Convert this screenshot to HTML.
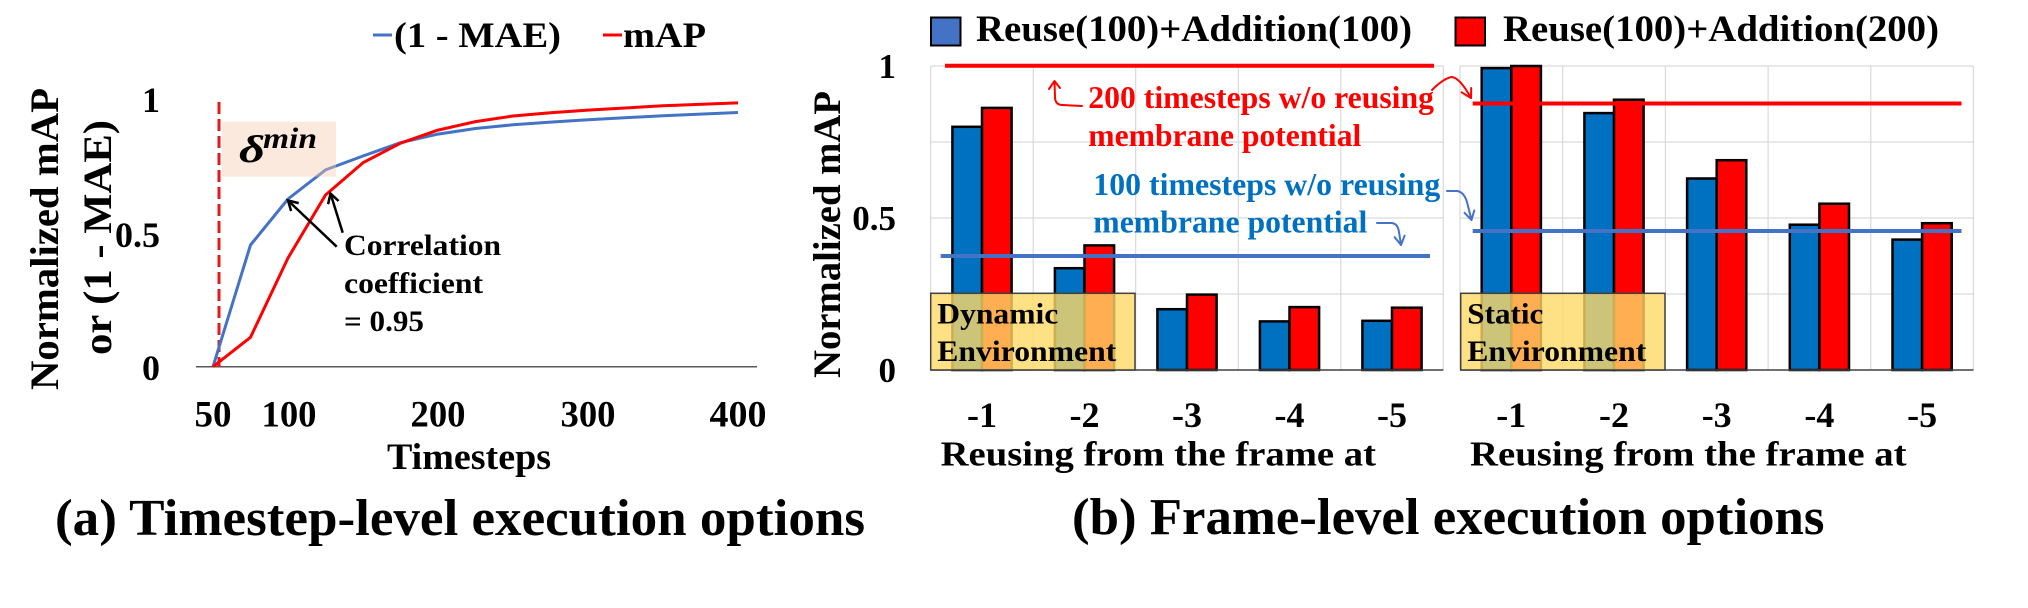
<!DOCTYPE html>
<html>
<head>
<meta charset="utf-8">
<style>
  html, body { margin: 0; padding: 0; background: #ffffff; }
  svg { display: block; }
  text { font-family: "Liberation Serif", "Times New Roman", serif; font-weight: bold; }
</style>
</head>
<body>
<svg width="2028" height="608" viewBox="0 0 2028 608" xmlns="http://www.w3.org/2000/svg">
  <rect x="0" y="0" width="2028" height="608" fill="#ffffff"/>

  <!-- ================= LEFT CHART (a) ================= -->
  <!-- legend -->
  <line x1="373" y1="35" x2="392" y2="35" stroke="#4472c4" stroke-width="3"/>
  <text x="394" y="47" font-size="36" textLength="167" lengthAdjust="spacingAndGlyphs">(1 - MAE)</text>
  <line x1="603" y1="35" x2="622" y2="35" stroke="#ff0000" stroke-width="3"/>
  <text x="623" y="47" font-size="36" textLength="83" lengthAdjust="spacingAndGlyphs">mAP</text>

  <!-- y axis title -->
  <text transform="translate(58,239) rotate(-90)" text-anchor="middle" font-size="40" textLength="302" lengthAdjust="spacingAndGlyphs">Normalized mAP</text>
  <text transform="translate(111,237.5) rotate(-90)" text-anchor="middle" font-size="40" textLength="235" lengthAdjust="spacingAndGlyphs">or (1 - MAE)</text>

  <!-- y ticks -->
  <text x="160" y="112" font-size="36" text-anchor="end">1</text>
  <text x="160" y="247" font-size="36" text-anchor="end">0.5</text>
  <text x="160" y="380" font-size="36" text-anchor="end">0</text>

  <!-- axis line -->
  <line x1="196" y1="366.7" x2="757" y2="366.7" stroke="#595959" stroke-width="1.5"/>

  <!-- dashed delta line -->
  <line x1="219" y1="102" x2="219" y2="367" stroke="#e31a1c" stroke-width="3" stroke-dasharray="12 5"/>

  <!-- curves -->
  <polyline fill="none" stroke="#4472c4" stroke-width="3" stroke-linejoin="round"
    points="213,366.7 250.5,245 288,199 325.5,169.9 363,156 400.5,142.7 438,134.1 475.5,128.5 513,124.8 550.5,122.1 588,119.7 663,115.7 738,112.5"/>
  <polyline fill="none" stroke="#ff0000" stroke-width="3" stroke-linejoin="round"
    points="213,366.7 250.5,337.3 288,258 325.5,195 363,162.7 400.5,143.2 438,130.1 475.5,121.6 513,116 550.5,112.8 588,110.1 663,105.8 738,102.9"/>

  <!-- delta box -->
  <rect x="222" y="121.7" width="114" height="55" fill="#f8cbad" fill-opacity="0.42"/>
  <text x="239" y="162" font-size="38" font-style="italic" textLength="26" lengthAdjust="spacingAndGlyphs">δ</text>
  <text x="263" y="148" font-size="30" font-style="italic" font-weight="normal" textLength="54" lengthAdjust="spacingAndGlyphs">min</text>

  <!-- x ticks -->
  <text x="213" y="426.5" font-size="37" text-anchor="middle" textLength="37" lengthAdjust="spacingAndGlyphs">50</text>
  <text x="289" y="426.5" font-size="37" text-anchor="middle" textLength="55" lengthAdjust="spacingAndGlyphs">100</text>
  <text x="438" y="426.5" font-size="37" text-anchor="middle" textLength="55" lengthAdjust="spacingAndGlyphs">200</text>
  <text x="588" y="426.5" font-size="37" text-anchor="middle" textLength="55" lengthAdjust="spacingAndGlyphs">300</text>
  <text x="738" y="426.5" font-size="37" text-anchor="middle" textLength="57" lengthAdjust="spacingAndGlyphs">400</text>
  <text x="469" y="469" font-size="37" text-anchor="middle" textLength="164" lengthAdjust="spacingAndGlyphs">Timesteps</text>

  <!-- correlation annotation -->
  <line x1="336.7" y1="246.7" x2="288" y2="200.5" stroke="#000" stroke-width="2.5"/>
  <polyline points="291.1,211 288,200.5 298.7,203.1" fill="none" stroke="#000" stroke-width="2.5"/>
  <line x1="342.7" y1="232.7" x2="330.5" y2="193.5" stroke="#000" stroke-width="2.5"/>
  <polyline points="328.1,204.2 330.5,193.5 338.6,201" fill="none" stroke="#000" stroke-width="2.5"/>
  <text x="344" y="255" font-size="30" textLength="157" lengthAdjust="spacingAndGlyphs">Correlation</text>
  <text x="344" y="293" font-size="30" textLength="139" lengthAdjust="spacingAndGlyphs">coefficient</text>
  <text x="344" y="331" font-size="30" textLength="80" lengthAdjust="spacingAndGlyphs">= 0.95</text>

  <!-- caption a -->
  <text x="55" y="535" font-size="52" textLength="810" lengthAdjust="spacingAndGlyphs">(a) Timestep-level execution options</text>

  <!-- ================= RIGHT CHART (b) ================= -->
  <!-- legend -->
  <rect x="931" y="17.5" width="29.5" height="28" fill="#4472c4" stroke="#000" stroke-width="2"/>
  <text x="976" y="41" font-size="37" textLength="436" lengthAdjust="spacingAndGlyphs">Reuse(100)+Addition(100)</text>
  <rect x="1455.5" y="17.5" width="29.5" height="28" fill="#ff0000" stroke="#000" stroke-width="2"/>
  <text x="1503" y="41" font-size="37" textLength="436" lengthAdjust="spacingAndGlyphs">Reuse(100)+Addition(200)</text>

  <!-- y title -->
  <text transform="translate(840,234.5) rotate(-90)" text-anchor="middle" font-size="39" textLength="287" lengthAdjust="spacingAndGlyphs">Normalized mAP</text>
  <!-- y ticks -->
  <text x="896" y="78" font-size="35" text-anchor="end">1</text>
  <text x="896" y="230" font-size="35" text-anchor="end">0.5</text>
  <text x="896" y="382" font-size="35" text-anchor="end">0</text>

  <!-- gridlines panel 1 -->
  <g stroke="#d9d9d9" stroke-width="1.2">
    <line x1="930.7" y1="66" x2="1443.3" y2="66"/>
    <line x1="930.7" y1="142" x2="1443.3" y2="142"/>
    <line x1="930.7" y1="218" x2="1443.3" y2="218"/>
    <line x1="930.7" y1="294" x2="1443.3" y2="294"/>
    <line x1="930.7" y1="66" x2="930.7" y2="370"/>
    <line x1="1033.2" y1="66" x2="1033.2" y2="370"/>
    <line x1="1135.7" y1="66" x2="1135.7" y2="370"/>
    <line x1="1238.3" y1="66" x2="1238.3" y2="370"/>
    <line x1="1340.8" y1="66" x2="1340.8" y2="370"/>
    <line x1="1443.3" y1="66" x2="1443.3" y2="370"/>
  </g>
  <!-- gridlines panel 2 -->
  <g stroke="#d9d9d9" stroke-width="1.2">
    <line x1="1460" y1="66" x2="1973.5" y2="66"/>
    <line x1="1460" y1="142" x2="1973.5" y2="142"/>
    <line x1="1460" y1="218" x2="1973.5" y2="218"/>
    <line x1="1460" y1="294" x2="1973.5" y2="294"/>
    <line x1="1460" y1="66" x2="1460" y2="370"/>
    <line x1="1562.7" y1="66" x2="1562.7" y2="370"/>
    <line x1="1665.4" y1="66" x2="1665.4" y2="370"/>
    <line x1="1768.1" y1="66" x2="1768.1" y2="370"/>
    <line x1="1870.8" y1="66" x2="1870.8" y2="370"/>
    <line x1="1973.5" y1="66" x2="1973.5" y2="370"/>
  </g>

  <!-- bars panel 1 (y0=370, scale 304) -->
  <g stroke="#000" stroke-width="2.5">
    <rect x="952.4" y="126.8" width="29.6" height="243.2" fill="#0070c0"/>
    <rect x="982.0" y="107.9" width="29.6" height="262.1" fill="#ff0000"/>
    <rect x="1054.9" y="268.2" width="29.6" height="101.8" fill="#0070c0"/>
    <rect x="1084.5" y="245.4" width="29.6" height="124.6" fill="#ff0000"/>
    <rect x="1157.4" y="309.2" width="29.6" height="60.8" fill="#0070c0"/>
    <rect x="1187.0" y="294.6" width="29.6" height="75.4" fill="#ff0000"/>
    <rect x="1259.9" y="321.4" width="29.6" height="48.6" fill="#0070c0"/>
    <rect x="1289.5" y="307.1" width="29.6" height="62.9" fill="#ff0000"/>
    <rect x="1362.4" y="320.8" width="29.6" height="49.2" fill="#0070c0"/>
    <rect x="1392.0" y="307.7" width="29.6" height="62.3" fill="#ff0000"/>
  </g>
  <!-- bars panel 2 -->
  <g stroke="#000" stroke-width="2.5">
    <rect x="1481.7" y="68.1" width="29.6" height="301.9" fill="#0070c0"/>
    <rect x="1511.3" y="66" width="29.6" height="304" fill="#ff0000"/>
    <rect x="1584.4" y="113.1" width="29.6" height="256.9" fill="#0070c0"/>
    <rect x="1614.0" y="99.7" width="29.6" height="270.3" fill="#ff0000"/>
    <rect x="1687.1" y="178.5" width="29.6" height="191.5" fill="#0070c0"/>
    <rect x="1716.7" y="160.2" width="29.6" height="209.8" fill="#ff0000"/>
    <rect x="1789.8" y="224.7" width="29.6" height="145.3" fill="#0070c0"/>
    <rect x="1819.4" y="203.7" width="29.6" height="166.3" fill="#ff0000"/>
    <rect x="1892.5" y="239.6" width="29.6" height="130.4" fill="#0070c0"/>
    <rect x="1922.1" y="223.2" width="29.6" height="146.8" fill="#ff0000"/>
  </g>

  <!-- axis lines -->
  <line x1="930.7" y1="370" x2="1443.3" y2="370" stroke="#404040" stroke-width="1.5"/>
  <line x1="1460" y1="370" x2="1973.5" y2="370" stroke="#404040" stroke-width="1.5"/>

  <!-- environment boxes -->
  <rect x="930.7" y="293.3" width="204.3" height="76.7" fill="#ffd966" fill-opacity="0.8" stroke="#404040" stroke-width="1.5"/>
  <text x="937.3" y="323.3" font-size="30" textLength="121" lengthAdjust="spacingAndGlyphs">Dynamic</text>
  <text x="937.3" y="361" font-size="30" textLength="179" lengthAdjust="spacingAndGlyphs">Environment</text>
  <rect x="1460.7" y="293.3" width="204.3" height="76.7" fill="#ffd966" fill-opacity="0.8" stroke="#404040" stroke-width="1.5"/>
  <text x="1467.3" y="323.3" font-size="30" textLength="76" lengthAdjust="spacingAndGlyphs">Static</text>
  <text x="1467.3" y="361" font-size="30" textLength="179" lengthAdjust="spacingAndGlyphs">Environment</text>

  <!-- reference lines -->
  <line x1="945" y1="65.7" x2="1434" y2="65.7" stroke="#ff0000" stroke-width="4"/>
  <line x1="940.7" y1="256" x2="1430" y2="256" stroke="#4472c4" stroke-width="4"/>
  <line x1="1472.7" y1="103.5" x2="1961.5" y2="103.5" stroke="#ff0000" stroke-width="4"/>
  <line x1="1472.7" y1="231" x2="1961.5" y2="231" stroke="#4472c4" stroke-width="4"/>

  <!-- annotations -->
  <text x="1088.3" y="108" font-size="32" fill="#ff0000" textLength="345.7" lengthAdjust="spacingAndGlyphs">200 timesteps w/o reusing</text>
  <text x="1088.3" y="146" font-size="32" fill="#ff0000" textLength="273" lengthAdjust="spacingAndGlyphs">membrane potential</text>
  <text x="1093.3" y="195" font-size="32" fill="#0070c0" textLength="347" lengthAdjust="spacingAndGlyphs">100 timesteps w/o reusing</text>
  <text x="1093.3" y="232.5" font-size="32" fill="#0070c0" textLength="274" lengthAdjust="spacingAndGlyphs">membrane potential</text>

  <!-- annotation arrows -->
  <g fill="none" stroke="#ff0000" stroke-width="2" stroke-linejoin="round" stroke-linecap="round">
    <path d="M1082,106 L1062,105 Q1055,104.5 1055,97 L1054.5,82"/>
    <path d="M1049,89 L1054.5,81 L1060,88"/>
    <path d="M1432,90 Q1444,78 1452,77 Q1460,78 1471,98"/>
    <path d="M1471.2,88 L1471,98 L1461.6,92.3"/>
  </g>
  <g fill="none" stroke="#4472c4" stroke-width="2" stroke-linejoin="round" stroke-linecap="round">
    <path d="M1447,191 L1457,191 Q1464,192 1467,202 L1471.5,220"/>
    <path d="M1474.3,210.4 L1471.5,220 L1464.5,212.8"/>
    <path d="M1377,223 L1392,223 Q1398,224 1399,232 L1401,245"/>
    <path d="M1404.6,235.7 L1401,245 L1394.7,237.2"/>
  </g>

  <!-- x labels panel 1 -->
  <g font-size="36" text-anchor="middle">
    <text x="982" y="427" textLength="30" lengthAdjust="spacingAndGlyphs">-1</text>
    <text x="1084.5" y="427" textLength="30" lengthAdjust="spacingAndGlyphs">-2</text>
    <text x="1187" y="427" textLength="30" lengthAdjust="spacingAndGlyphs">-3</text>
    <text x="1289.5" y="427" textLength="30" lengthAdjust="spacingAndGlyphs">-4</text>
    <text x="1392" y="427" textLength="30" lengthAdjust="spacingAndGlyphs">-5</text>
    <text x="1511.3" y="427" textLength="30" lengthAdjust="spacingAndGlyphs">-1</text>
    <text x="1614" y="427" textLength="30" lengthAdjust="spacingAndGlyphs">-2</text>
    <text x="1716.7" y="427" textLength="30" lengthAdjust="spacingAndGlyphs">-3</text>
    <text x="1819.4" y="427" textLength="30" lengthAdjust="spacingAndGlyphs">-4</text>
    <text x="1922.1" y="427" textLength="30" lengthAdjust="spacingAndGlyphs">-5</text>
  </g>
  <text x="940.6" y="465.5" font-size="35" textLength="435.4" lengthAdjust="spacingAndGlyphs">Reusing from the frame at</text>
  <text x="1470" y="465.5" font-size="35" textLength="436.6" lengthAdjust="spacingAndGlyphs">Reusing from the frame at</text>

  <!-- caption b -->
  <text x="1072" y="534" font-size="52" textLength="752.5" lengthAdjust="spacingAndGlyphs">(b) Frame-level execution options</text>
</svg>
</body>
</html>
